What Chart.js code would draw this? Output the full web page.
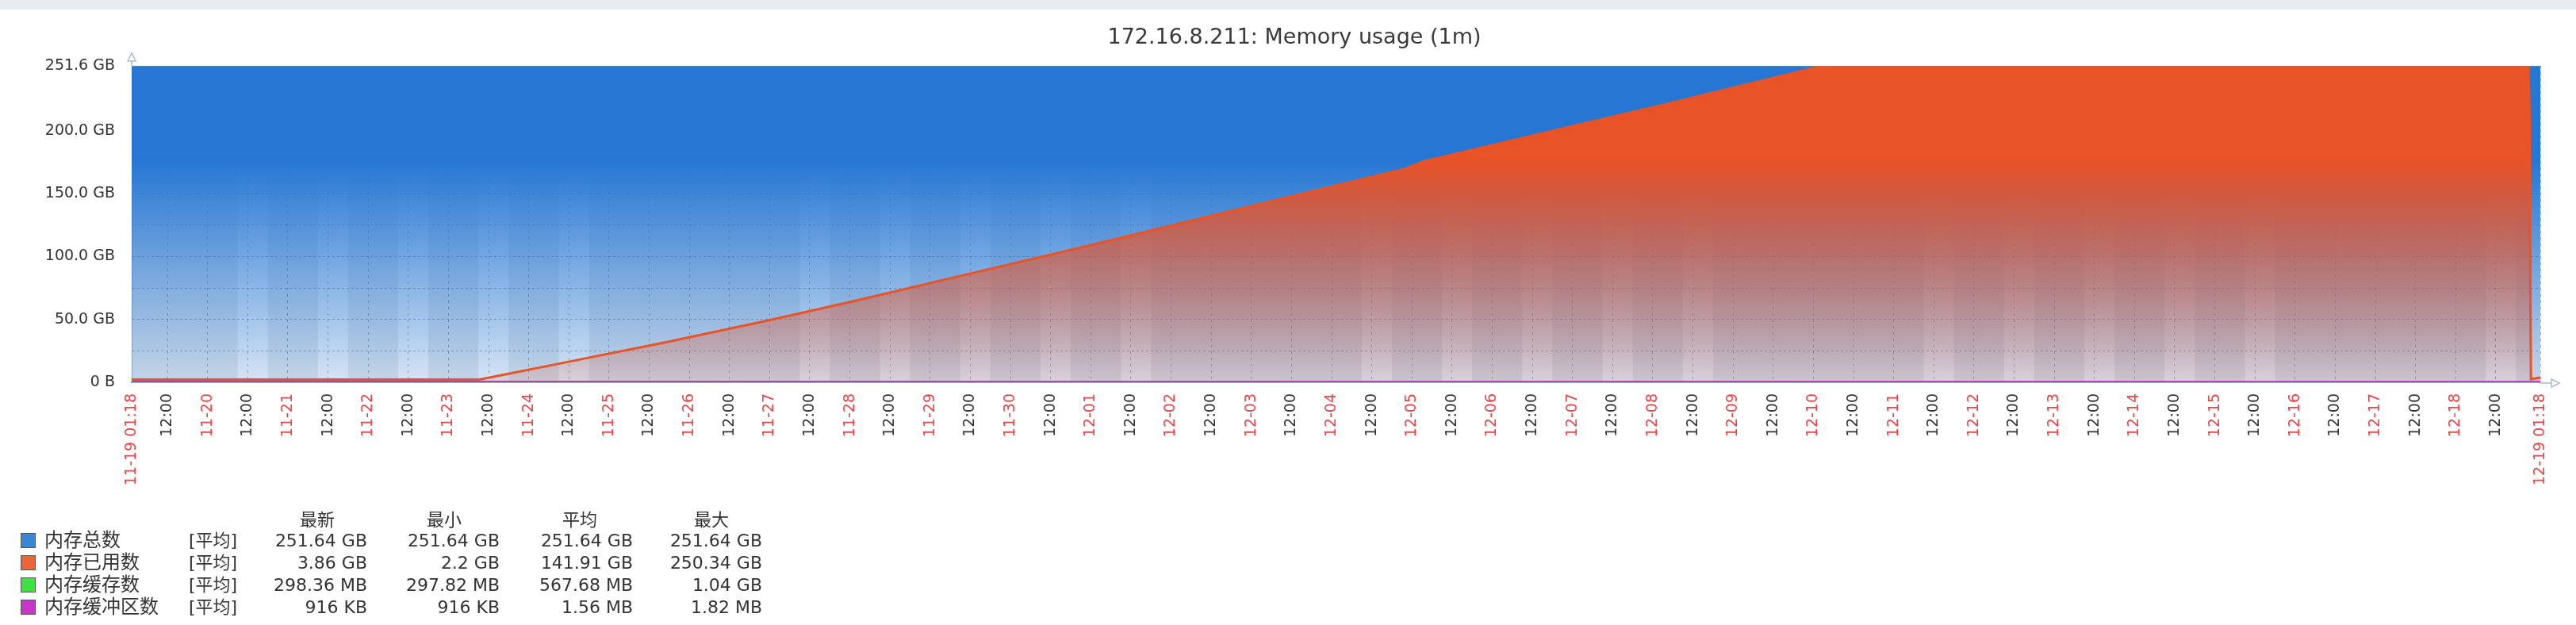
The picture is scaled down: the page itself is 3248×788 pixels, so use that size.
<!DOCTYPE html>
<html>
<head>
<meta charset="utf-8">
<title>172.16.8.211: Memory usage (1m)</title>
<script src="https://cdn.jsdelivr.net/npm/chart.js@4.4.1/dist/chart.umd.min.js"></script>
<style>
  html, body { margin: 0; padding: 0; background: #fff; }
  body { width: 3248px; height: 788px; position: relative; overflow: hidden;
         font-family: "DejaVu Sans", "Noto Sans CJK SC", sans-serif; color: #333; }
  #topbar { position: absolute; left: 0; top: 0; width: 3248px; height: 12px; background: #e8ecf0; }
  #chart { position: absolute; left: 0; top: 0; }
  #title { position: absolute; left: 1232px; width: 800px; top: 29px; text-align: center;
           font-size: 27px; line-height: 33px; color: #3a3a3a; white-space: nowrap; }
  #legend { position: absolute; left: 0; top: 0; width: 3248px; height: 788px; font-size: 22px; }
  #legend div { position: absolute; white-space: nowrap; line-height: 26px; }
  #legend .sw { width: 19px; height: 19px; border: 1px solid #555; box-sizing: border-box; }
  #legend .name { font-size: 24px; }
</style>
</head>
<body>
<div id="topbar"></div>
<canvas id="chart" width="3248" height="788"></canvas>
<div id="title"></div>
<div id="legend"></div>
<script>
const chartTitle = '172.16.8.211: Memory usage (1m)';

// time axis is in hours counted from 11-19 01:18
const startLabel = '11-19 01:18';
const endLabel = '12-19 01:18';
const dayLabels = ['11-20', '11-21', '11-22', '11-23', '11-24', '11-25', '11-26', '11-27', '11-28',
  '11-29', '11-30', '12-01', '12-02', '12-03', '12-04', '12-05', '12-06', '12-07', '12-08',
  '12-09', '12-10', '12-11', '12-12', '12-13', '12-14', '12-15', '12-16', '12-17', '12-18'];
const noonLabel = '12:00';
// days (counted from 11-19) with working hours 09:00-18:00
const workDays = [1, 2, 3, 4, 5, 8, 9, 10, 11, 12, 15, 16, 17, 18, 19, 22, 23, 24, 25, 26, 29];

// series values, GB
const totalHours = [0, 720];
const totalGB = [251.64, 251.64];
const usedHours = [0, 104, 130, 160, 190, 215, 250, 285, 316, 350, 381, 386, 420, 460, 503.5, 716.5, 716.8, 717.0, 717.2, 720];
const usedGB = [2.2, 2.2, 16, 32, 49, 64, 86, 108, 128, 150, 170, 175.5, 197, 222, 250.3, 250.3, 207, 83, 2.6, 3.86];
const cachedHours = [0, 104, 500, 720];
const cachedGB = [1.04, 0.9, 0.5, 0.29];
const bufferHours = [0, 360, 720];
const bufferGB = [0.00178, 0.0015, 0.00087];

const yTicks = [0, 25, 50, 75, 100, 125, 150, 175, 200, 225, 251.64];

// legend table
const legendNames = ['内存总数', '内存已用数', '内存缓存数', '内存缓冲区数'];
const legendColors = ['#3a86d6', '#ee6438', '#3ee23e', '#c636c8'];
const legendFunc = '[平均]';
const legendHeads = ['最新', '最小', '平均', '最大'];
const lastValues = ['251.64 GB', '3.86 GB', '298.36 MB', '916 KB'];
const minValues = ['251.64 GB', '2.2 GB', '297.82 MB', '916 KB'];
const avgValues = ['251.64 GB', '141.91 GB', '567.68 MB', '1.56 MB'];
const maxValues = ['251.64 GB', '250.34 GB', '1.04 GB', '1.82 MB'];

const START_MIN = 1.3; // 01:18
const pts = (xs, ys) => xs.map((x, i) => ({ x: x, y: ys[i] }));

document.getElementById('title').textContent = chartTitle;

// x ticks: start, every noon and midnight, end
const xTicks = [{ value: 0, label: startLabel }];
for (let d = 0; d < 30; d++) {
  if (d > 0) xTicks.push({ value: d * 24 - START_MIN, label: dayLabels[d - 1] });
  xTicks.push({ value: d * 24 + 12 - START_MIN, label: noonLabel });
}
xTicks.push({ value: 720, label: endLabel });

function fade(rgb, topA, midA, botA) {
  return (context) => {
    const chart = context.chart;
    const a = chart.chartArea;
    if (!a) return 'rgba(' + rgb + ',1)';
    const g = chart.ctx.createLinearGradient(0, a.top, 0, a.bottom);
    g.addColorStop(0, 'rgba(' + rgb + ',' + topA + ')');
    g.addColorStop(0.3, 'rgba(' + rgb + ',' + midA + ')');
    g.addColorStop(1, 'rgba(' + rgb + ',' + botA + ')');
    return g;
  };
}

const workShade = {
  id: 'workShade',
  beforeDraw(chart) {
    const { ctx, chartArea: a, scales: { x } } = chart;
    ctx.save();
    ctx.fillStyle = '#e2e6ea';
    ctx.fillRect(a.left, a.top, a.width, a.height);
    ctx.fillStyle = '#f6f8fa';
    workDays.forEach(d => {
      const x0 = x.getPixelForValue(d * 24 - START_MIN + 9);
      const x1 = x.getPixelForValue(d * 24 - START_MIN + 18);
      ctx.fillRect(x0, a.top, x1 - x0, a.height);
    });
    ctx.restore();
  }
};

// little hollow arrows at the ends of the axes
const axisArrows = {
  id: 'axisArrows',
  afterDraw(chart) {
    const { ctx, chartArea: a } = chart;
    ctx.save();
    ctx.strokeStyle = '#aebcc6';
    ctx.lineWidth = 1.5;
    ctx.beginPath();
    ctx.moveTo(a.left - 5, a.top - 6);
    ctx.lineTo(a.left, a.top - 16);
    ctx.lineTo(a.left + 5, a.top - 6);
    ctx.closePath();
    ctx.moveTo(a.left, a.top - 6);
    ctx.lineTo(a.left, a.top);
    ctx.moveTo(a.right + 14, a.bottom + 1 - 5);
    ctx.lineTo(a.right + 24, a.bottom + 1);
    ctx.lineTo(a.right + 14, a.bottom + 1 + 5);
    ctx.closePath();
    ctx.moveTo(a.right, a.bottom + 1);
    ctx.lineTo(a.right + 14, a.bottom + 1);
    ctx.stroke();
    ctx.restore();
  }
};

new Chart(document.getElementById('chart'), {
  type: 'line',
  data: {
    datasets: [
      {
        label: legendNames[3],
        data: pts(bufferHours, bufferGB),
        borderColor: '#c02ac4',
        borderWidth: 3.5,
        pointRadius: 0,
        fill: false,
        order: 1
      },
      {
        label: legendNames[2],
        data: pts(cachedHours, cachedGB),
        borderColor: '#33dd33',
        borderWidth: 1,
        pointRadius: 0,
        fill: false,
        order: 2
      },
      {
        label: legendNames[1],
        data: pts(usedHours, usedGB),
        borderColor: 'rgb(232,83,40)',
        borderWidth: 3,
        backgroundColor: fade('232,83,40', 1, 1, 0.12),
        pointRadius: 0,
        fill: 'origin',
        order: 3
      },
      {
        label: legendNames[0],
        data: pts(totalHours, totalGB),
        borderColor: 'rgb(70,140,225)',
        borderWidth: 2,
        backgroundColor: fade('38,119,212', 1, 1, 0.15),
        pointRadius: 0,
        fill: 'origin',
        order: 4
      }
    ]
  },
  options: {
    responsive: false,
    animation: false,
    layout: { padding: { left: 0, right: 45, top: 83, bottom: 0 } },
    plugins: {
      legend: { display: false },
      tooltip: { enabled: false },
      title: { display: false }
    },
    scales: {
      x: {
        type: 'linear',
        min: 0,
        max: 720,
        afterBuildTicks: (scale) => { scale.ticks = xTicks.map(t => ({ value: t.value })); },
        afterFit: (scale) => { scale.height = 306; },
        grid: {
          color: 'rgba(80,95,110,0.55)',
          lineWidth: 1,
          drawTicks: false
        },
        // in v4 border.dash sets the dash of the grid lines
        border: { display: true, color: '#a9b6bf', width: 2, dash: [3, 5] },
        ticks: {
          autoSkip: false,
          minRotation: 90,
          maxRotation: 90,
          padding: 14,
          font: { family: 'DejaVu Sans', size: 19 },
          color: (ctx) => (xTicks[ctx.index] && xTicks[ctx.index].label === noonLabel ? '#333' : '#e8474a'),
          callback: (v, i) => xTicks[i].label
        }
      },
      y: {
        type: 'linear',
        min: 0,
        max: 251.64,
        afterBuildTicks: (scale) => { scale.ticks = yTicks.map(v => ({ value: v })); },
        afterFit: (scale) => { scale.width = 166; },
        grid: {
          color: (ctx) => (ctx.tick && (ctx.tick.value === 0 || ctx.tick.value === 251.64) ? 'rgba(0,0,0,0)' : 'rgba(80,95,110,0.55)'),
          lineWidth: 1,
          drawTicks: false
        },
        border: { display: true, color: '#9fb0c0', width: 1, dash: [3, 3] },
        ticks: {
          padding: 21,
          font: { family: 'DejaVu Sans', size: 19 },
          color: '#333',
          callback: (v) => {
            if (v === 0) return '0 B';
            if (v === 251.64 || v % 50 === 0) return v.toFixed(1) + ' GB';
            return '';
          }
        }
      }
    }
  },
  plugins: [workShade, axisArrows]
});
</script>
<script>
// legend table under the chart
(function () {
  const box = document.getElementById('legend');
  const rowY = [682, 710, 738, 766];
  const headY = 656;
  const headX = [400, 560, 731, 897];
  const colRight = [463, 630, 798, 961];
  const cols = [lastValues, minValues, avgValues, maxValues];
  const add = (text, css) => {
    const el = document.createElement('div');
    el.textContent = text;
    Object.assign(el.style, css);
    box.appendChild(el);
    return el;
  };
  legendHeads.forEach((h, i) => {
    add(h, { left: (headX[i] - 40) + 'px', width: '80px', textAlign: 'center', top: (headY - 13) + 'px' });
  });
  legendNames.forEach((n, r) => {
    const y = rowY[r];
    const sw = add('', { left: '26px', top: (y - 10) + 'px', background: legendColors[r] });
    sw.className = 'sw';
    add(n, { left: '56px', top: (y - 14) + 'px' }).className = 'name';
    add(legendFunc, { left: '238px', top: (y - 13) + 'px' });
    cols.forEach((c, k) => {
      add(c[r], { right: (3248 - colRight[k]) + 'px', top: (y - 13) + 'px', textAlign: 'right' });
    });
  });
})();
</script>
</body>
</html>
